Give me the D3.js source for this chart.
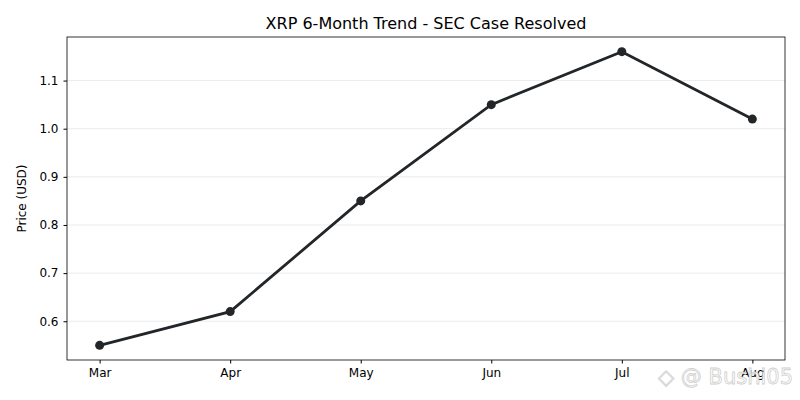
<!DOCTYPE html>
<html>
<head>
<meta charset="utf-8">
<script src="https://cdn.jsdelivr.net/npm/d3@7"></script>
<style>
  body { margin: 0; background: #fff; font-family: "DejaVu Sans", sans-serif; }
</style>
</head>
<body>
<div id="chart"></div>
<script>
var months = ["Mar", "Apr", "May", "Jun", "Jul", "Aug"];
var prices = [0.55, 0.62, 0.85, 1.05, 1.16, 1.02];
var yTicks = [0.6, 0.7, 0.8, 0.9, 1.0, 1.1];

var width = 800, height = 400,
    margin = {top: 37, right: 15, bottom: 40, left: 67};

var svg = d3.select("#chart").append("svg")
    .attr("width", width)
    .attr("height", height);

var x = d3.scaleLinear()
    .domain([-0.25, months.length - 0.75])
    .range([margin.left, width - margin.right]);

var y = d3.scaleLinear()
    .domain([0.5195, 1.1905])
    .range([height - margin.bottom, margin.top]);

// grid
svg.append("g").selectAll("line")
    .data(yTicks).enter().append("line")
    .attr("x1", margin.left).attr("x2", width - margin.right)
    .attr("y1", d => y(d)).attr("y2", d => y(d))
    .attr("stroke", "#e6e6e6").attr("stroke-width", 0.8);

var xAxis = svg.append("g")
    .attr("transform", "translate(0," + (height - margin.bottom) + ")")
    .call(d3.axisBottom(x).tickValues(d3.range(months.length))
        .tickFormat(i => months[i]).tickSize(3.5).tickPadding(5));

var yAxis = svg.append("g")
    .attr("transform", "translate(" + margin.left + ",0)")
    .call(d3.axisLeft(y).tickValues(yTicks).tickFormat(d3.format(".1f"))
        .tickSize(3.5).tickPadding(5));

[xAxis, yAxis].forEach(function(a) {
  a.select(".domain").remove();
  a.selectAll("text").attr("font-family", "DejaVu Sans").attr("font-size", 12).attr("fill", "#000");
  a.selectAll("line").attr("stroke", "#000");
});

// frame
svg.append("rect")
    .attr("x", margin.left).attr("y", margin.top)
    .attr("width", width - margin.left - margin.right)
    .attr("height", height - margin.bottom - margin.top)
    .attr("fill", "none").attr("stroke", "#000").attr("stroke-width", 0.8);

var line = d3.line().x((d, i) => x(i)).y(d => y(d));

svg.append("path")
    .datum(prices)
    .attr("d", line)
    .attr("fill", "none")
    .attr("stroke", "#222629")
    .attr("stroke-width", 2.8);

svg.append("g").selectAll("circle")
    .data(prices).enter().append("circle")
    .attr("cx", (d, i) => x(i))
    .attr("cy", d => y(d))
    .attr("r", 4.5)
    .attr("fill", "#222629");

svg.append("text")
    .attr("x", (margin.left + width - margin.right) / 2)
    .attr("y", 29)
    .attr("text-anchor", "middle")
    .attr("font-size", 16).attr("fill", "#000")
    .text("XRP 6-Month Trend - SEC Case Resolved");

svg.append("text")
    .attr("transform", "translate(26," + ((margin.top + height - margin.bottom) / 2) + ") rotate(-90)")
    .attr("text-anchor", "middle")
    .attr("font-size", 12).attr("fill", "#000")
    .text("Price (USD)");

// watermark
svg.append("text")
    .attr("x", 793).attr("y", 384)
    .attr("text-anchor", "end")
    .attr("font-size", 21)
    .attr("fill", "#fff").attr("stroke", "#ccc").attr("stroke-width", 0.8)
    .attr("opacity", 0.9)
    .text("◇ @ Bushi05");
</script>
</body>
</html>
